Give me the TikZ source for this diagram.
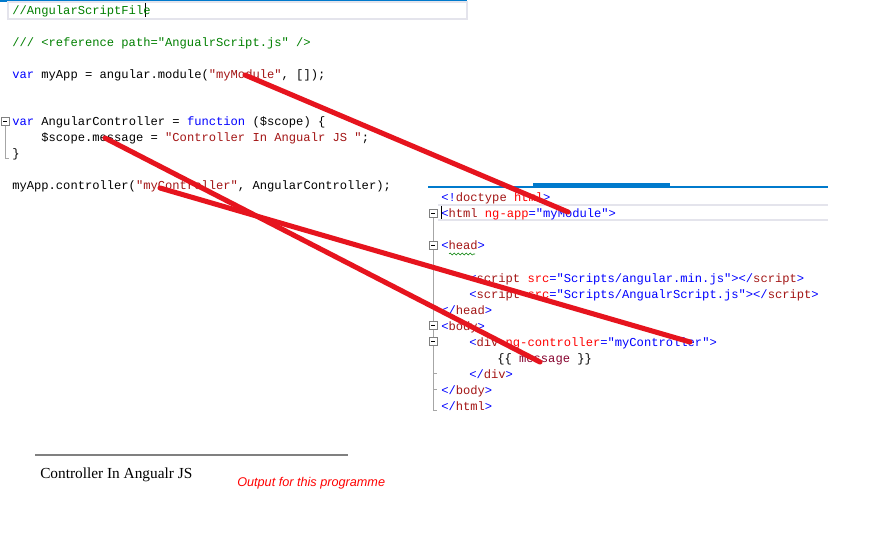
\documentclass[tikz,border=0pt]{standalone}
\usepackage{fontspec}
\usetikzlibrary{decorations.pathmorphing}
\setmonofont{Liberation Mono}
\setmainfont{Liberation Serif}
\setsansfont{Liberation Sans}
\definecolor{kwc}{RGB}{0,0,255}
\definecolor{stc}{RGB}{163,21,21}
\definecolor{cmc}{RGB}{0,128,0}
\definecolor{atc}{RGB}{255,0,0}
\definecolor{vsblue}{RGB}{0,122,204}
\definecolor{hlc}{RGB}{228,228,236}
\definecolor{strk}{RGB}{230,20,30}
\newcommand{\KW}[1]{\textcolor{kwc}{#1}}
\newcommand{\ST}[1]{\textcolor{stc}{#1}}
\newcommand{\CM}[1]{\textcolor{cmc}{#1}}
\newcommand{\AT}[1]{\textcolor{atc}{#1}}
\tikzset{code/.style={anchor=base west,inner sep=0pt,font=\ttfamily\fontsize{9.1}{10}\selectfont},
 strike/.style={strk,line width=3.8pt,line cap=round},
 fold/.style={draw=gray,fill=white,minimum size=6pt,inner sep=0pt,line width=0.4pt}}
\begin{document}
\begin{tikzpicture}[x=0.75pt,y=-0.75pt]
\useasboundingbox (0,0) rectangle (891,534);
\fill[white] (0,0) rectangle (891,534);
% left panel
\draw[vsblue,line width=1.5pt] (0,1) -- (467,1);
\draw[hlc,line width=0.8pt] (8,2) rectangle (467,19);
\draw[black,line width=0.6pt] (145,3) -- (145,17);
\node[code] (l1) at (12,15) {\CM{//AngularScriptFile}};
\node[code] (l2) at (12,47) {\CM{/// <reference path="AngualrScript.js" />}};
\node[code] (l3) at (12,79) {\KW{var} myApp = angular.module(\ST{"myModule"}, []);};
\node[code] (l4) at (12,126) {\KW{var} AngularController = \KW{function} (\$scope) \{};
\node[code] (l5) at (12,142) {~~~~\$scope.message = \ST{"Controller In Angualr JS "};};
\node[code] (l6) at (12,158) {\}};
\node[code] (l7) at (12,190) {myApp.controller(\ST{"myController"}, AngularController);};
\draw[gray!70] (5,126) -- (5,158) -- (9,158);
\node[fold] (f1) at (5,121) {}; \draw (3,121) -- (7,121);
% right panel
\draw[vsblue,line width=1.3pt] (428,187) -- (828,187);
\fill[vsblue] (533,183) rectangle (670,187);
\draw[hlc,line width=0.8pt] (438,205) -- (828,205) (438,220) -- (828,220);
\draw[black,line width=0.6pt] (441,206) -- (441,219);
\node[code] (r1) at (441,202) {\KW{<!}\ST{doctype} \AT{html}\KW{>}};
\node[code] (r2) at (441,218) {\KW{<}\ST{html} \AT{ng-app}\KW{="myModule">}};
\node[code] (r3) at (441,250) {\KW{<}\ST{head}\KW{>}};
\draw[cmc,decorate,decoration={snake,amplitude=0.8pt,segment length=3pt}] (449,254) -- (475,254);
\node[code] (r4) at (469,282) {\KW{<}\ST{script} \AT{src}\KW{="Scripts/angular.min.js"></}\ST{script}\KW{>}};
\node[code] (r5) at (469,298) {\KW{<}\ST{script} \AT{src}\KW{="Scripts/AngualrScript.js"></}\ST{script}\KW{>}};
\node[code] (r6) at (441,314) {\KW{</}\ST{head}\KW{>}};
\node[code] (r7) at (441,330) {\KW{<}\ST{body}\KW{>}};
\node[code] (r8) at (469,346) {\KW{<}\ST{div} \AT{ng-controller}\KW{="myController">}};
\node[code] (r9) at (497,362) {\{\{ \textcolor{purple!70!black}{message} \}\}};
\node[code] (r10) at (469,378) {\KW{</}\ST{div}\KW{>}};
\node[code] (r11) at (441,394) {\KW{</}\ST{body}\KW{>}};
\node[code] (r12) at (441,410) {\KW{</}\ST{html}\KW{>}};
\draw[gray!70] (433,213) -- (433,410) -- (437,410);
\draw[gray!70] (433,389) -- (437,389) (433,373) -- (437,373) (433,309) -- (437,309);
\foreach \yy in {213,245,325,341}{\node[fold] at (433,\yy) {}; \draw (431,\yy) -- (435,\yy);}
% output
\draw[gray,line width=0.8pt] (35,455) -- (348,455);
\node[anchor=base west,inner sep=0pt,font=\fontsize{11.5}{13}\selectfont] (out) at (40,478) {Controller In Angualr JS};
\node[anchor=base west,inner sep=0pt,text=atc,font=\sffamily\itshape\fontsize{9.5}{11}\selectfont] (lbl) at (237,486) {Output for this programme};
% strike lines
\coordinate (a1) at (245,75); \coordinate (a2) at (568,212);
\coordinate (b1) at (105,138); \coordinate (b2) at (540,362);
\coordinate (c1) at (160,188); \coordinate (c2) at (690,342);
\draw[strike] (a1) -- (a2);
\draw[strike] (b1) -- (b2);
\draw[strike] (c1) -- (c2);
\end{tikzpicture}
\end{document}
